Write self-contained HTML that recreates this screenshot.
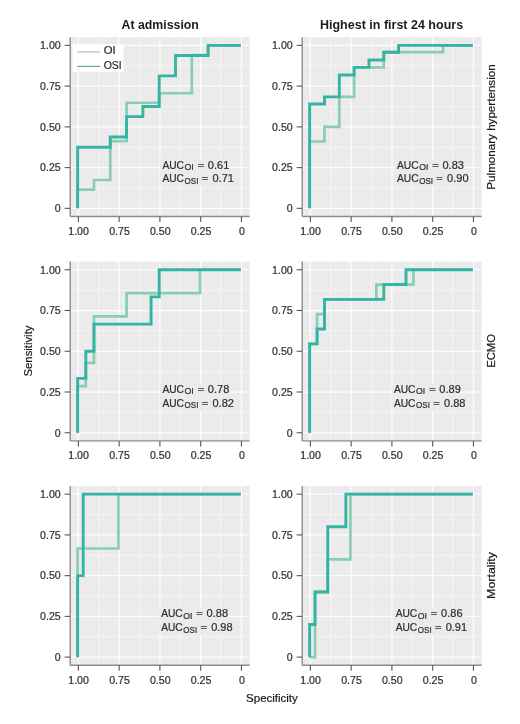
<!DOCTYPE html>
<html><head><meta charset="utf-8"><title>ROC curves</title>
<style>
html,body{margin:0;padding:0;background:#fff;overflow:hidden;}
svg{display:block;}
text{font-family:"Liberation Sans", Arial, sans-serif;font-kerning:none;}
</style></head><body>
<svg width="520" height="724" viewBox="0 0 520 724">
<rect x="0" y="0" width="520" height="724" fill="#ffffff"/>
<g>
<rect x="70.20" y="37.20" width="179.40" height="179.30" fill="#ebebeb"/>
<line x1="221.06" y1="37.20" x2="221.06" y2="216.50" stroke="#f6f6f6" stroke-width="0.9"/>
<line x1="70.20" y1="187.97" x2="249.60" y2="187.97" stroke="#f6f6f6" stroke-width="0.9"/>
<line x1="180.29" y1="37.20" x2="180.29" y2="216.50" stroke="#f6f6f6" stroke-width="0.9"/>
<line x1="70.20" y1="147.22" x2="249.60" y2="147.22" stroke="#f6f6f6" stroke-width="0.9"/>
<line x1="139.51" y1="37.20" x2="139.51" y2="216.50" stroke="#f6f6f6" stroke-width="0.9"/>
<line x1="70.20" y1="106.47" x2="249.60" y2="106.47" stroke="#f6f6f6" stroke-width="0.9"/>
<line x1="98.74" y1="37.20" x2="98.74" y2="216.50" stroke="#f6f6f6" stroke-width="0.9"/>
<line x1="70.20" y1="65.72" x2="249.60" y2="65.72" stroke="#f6f6f6" stroke-width="0.9"/>
<line x1="241.45" y1="37.20" x2="241.45" y2="216.50" stroke="#fdfdfd" stroke-width="1.25"/>
<line x1="70.20" y1="208.35" x2="249.60" y2="208.35" stroke="#fdfdfd" stroke-width="1.25"/>
<line x1="200.67" y1="37.20" x2="200.67" y2="216.50" stroke="#fdfdfd" stroke-width="1.25"/>
<line x1="70.20" y1="167.60" x2="249.60" y2="167.60" stroke="#fdfdfd" stroke-width="1.25"/>
<line x1="159.90" y1="37.20" x2="159.90" y2="216.50" stroke="#fdfdfd" stroke-width="1.25"/>
<line x1="70.20" y1="126.85" x2="249.60" y2="126.85" stroke="#fdfdfd" stroke-width="1.25"/>
<line x1="119.13" y1="37.20" x2="119.13" y2="216.50" stroke="#fdfdfd" stroke-width="1.25"/>
<line x1="70.20" y1="86.10" x2="249.60" y2="86.10" stroke="#fdfdfd" stroke-width="1.25"/>
<line x1="78.35" y1="37.20" x2="78.35" y2="216.50" stroke="#fdfdfd" stroke-width="1.25"/>
<line x1="70.20" y1="45.35" x2="249.60" y2="45.35" stroke="#fdfdfd" stroke-width="1.25"/>
<polyline points="77.65,208.35 77.65,189.60 93.96,189.60 93.96,179.99 110.27,179.99 110.27,141.03 126.58,141.03 126.58,102.73 159.20,102.73 159.20,93.27 191.82,93.27 191.82,55.13 208.13,55.13 208.13,45.35 240.75,45.35" fill="none" stroke="#88ceb2" stroke-width="2.7" stroke-linejoin="miter" stroke-linecap="butt"/>
<polyline points="77.65,208.35 77.65,147.22 110.27,147.22 110.27,137.04 126.58,137.04 126.58,116.66 142.89,116.66 142.89,106.47 159.20,106.47 159.20,75.91 175.51,75.91 175.51,55.54 208.13,55.54 208.13,45.35 240.75,45.35" fill="none" stroke="#35b3a6" stroke-width="2.9" stroke-linejoin="miter" stroke-linecap="butt"/>
<rect x="160.00" y="159.40" width="68.00" height="12.3" fill="#ebebeb"/>
<rect x="160.00" y="171.90" width="73.00" height="14" fill="#ebebeb"/>
<text x="162.48" y="168.60" font-size="10.2" stroke-width="0.22" fill="#303030" stroke="#303030" textLength="21.51" lengthAdjust="spacingAndGlyphs">AUC</text>
<text x="184.59" y="169.90" font-size="8.6" stroke-width="0.22" fill="#303030" stroke="#303030" textLength="9.22" lengthAdjust="spacingAndGlyphs">OI</text>
<text x="197.66" y="167.60" font-size="9.0" stroke-width="0.22" fill="#303030" stroke="#303030" textLength="6.49" lengthAdjust="spacingAndGlyphs">=</text>
<text x="207.87" y="168.60" font-size="10.3" stroke-width="0.22" fill="#303030" stroke="#303030" textLength="21.45" lengthAdjust="spacingAndGlyphs">0.61</text>
<text x="162.48" y="182.40" font-size="10.2" stroke-width="0.22" fill="#303030" stroke="#303030" textLength="21.51" lengthAdjust="spacingAndGlyphs">AUC</text>
<text x="184.62" y="183.70" font-size="8.6" stroke-width="0.22" fill="#303030" stroke="#303030" textLength="13.82" lengthAdjust="spacingAndGlyphs">OSI</text>
<text x="201.76" y="181.40" font-size="9.0" stroke-width="0.22" fill="#303030" stroke="#303030" textLength="6.49" lengthAdjust="spacingAndGlyphs">=</text>
<text x="212.47" y="182.40" font-size="10.3" stroke-width="0.22" fill="#303030" stroke="#303030" textLength="21.45" lengthAdjust="spacingAndGlyphs">0.71</text>
<line x1="70.20" y1="37.20" x2="70.20" y2="216.50" stroke="#8c8c8c" stroke-width="1.4"/>
<line x1="70.20" y1="216.50" x2="249.60" y2="216.50" stroke="#8c8c8c" stroke-width="1.4"/>
<line x1="64.60" y1="45.35" x2="70.20" y2="45.35" stroke="#555555" stroke-width="1.1"/>
<text x="40.08" y="49.10" font-size="10.6" stroke-width="0.22" fill="#303030" stroke="#303030" textLength="20.63" lengthAdjust="spacingAndGlyphs">1.00</text>
<line x1="78.35" y1="216.50" x2="78.35" y2="222.00" stroke="#555555" stroke-width="1.1"/>
<text x="68.24" y="234.80" font-size="10.6" stroke-width="0.22" fill="#303030" stroke="#303030" textLength="20.63" lengthAdjust="spacingAndGlyphs">1.00</text>
<line x1="64.60" y1="86.10" x2="70.20" y2="86.10" stroke="#555555" stroke-width="1.1"/>
<text x="40.11" y="89.85" font-size="10.6" stroke-width="0.22" fill="#303030" stroke="#303030" textLength="20.63" lengthAdjust="spacingAndGlyphs">0.75</text>
<line x1="119.13" y1="216.50" x2="119.13" y2="222.00" stroke="#555555" stroke-width="1.1"/>
<text x="109.23" y="234.80" font-size="10.6" stroke-width="0.22" fill="#303030" stroke="#303030" textLength="20.63" lengthAdjust="spacingAndGlyphs">0.75</text>
<line x1="64.60" y1="126.85" x2="70.20" y2="126.85" stroke="#555555" stroke-width="1.1"/>
<text x="40.08" y="130.60" font-size="10.6" stroke-width="0.22" fill="#303030" stroke="#303030" textLength="20.63" lengthAdjust="spacingAndGlyphs">0.50</text>
<line x1="159.90" y1="216.50" x2="159.90" y2="222.00" stroke="#555555" stroke-width="1.1"/>
<text x="149.98" y="234.80" font-size="10.6" stroke-width="0.22" fill="#303030" stroke="#303030" textLength="20.63" lengthAdjust="spacingAndGlyphs">0.50</text>
<line x1="64.60" y1="167.60" x2="70.20" y2="167.60" stroke="#555555" stroke-width="1.1"/>
<text x="40.11" y="171.35" font-size="10.6" stroke-width="0.22" fill="#303030" stroke="#303030" textLength="20.63" lengthAdjust="spacingAndGlyphs">0.25</text>
<line x1="200.67" y1="216.50" x2="200.67" y2="222.00" stroke="#555555" stroke-width="1.1"/>
<text x="190.77" y="234.80" font-size="10.6" stroke-width="0.22" fill="#303030" stroke="#303030" textLength="20.63" lengthAdjust="spacingAndGlyphs">0.25</text>
<line x1="64.60" y1="208.35" x2="70.20" y2="208.35" stroke="#555555" stroke-width="1.1"/>
<text x="54.82" y="212.10" font-size="10.6" stroke-width="0.22" fill="#303030" stroke="#303030" textLength="5.90" lengthAdjust="spacingAndGlyphs">0</text>
<line x1="241.45" y1="216.50" x2="241.45" y2="222.00" stroke="#555555" stroke-width="1.1"/>
<text x="238.90" y="234.80" font-size="10.6" stroke-width="0.22" fill="#303030" stroke="#303030" textLength="5.90" lengthAdjust="spacingAndGlyphs">0</text>
</g>
<g>
<rect x="302.20" y="37.20" width="179.40" height="179.30" fill="#ebebeb"/>
<line x1="453.06" y1="37.20" x2="453.06" y2="216.50" stroke="#f6f6f6" stroke-width="0.9"/>
<line x1="302.20" y1="187.97" x2="481.60" y2="187.97" stroke="#f6f6f6" stroke-width="0.9"/>
<line x1="412.29" y1="37.20" x2="412.29" y2="216.50" stroke="#f6f6f6" stroke-width="0.9"/>
<line x1="302.20" y1="147.22" x2="481.60" y2="147.22" stroke="#f6f6f6" stroke-width="0.9"/>
<line x1="371.51" y1="37.20" x2="371.51" y2="216.50" stroke="#f6f6f6" stroke-width="0.9"/>
<line x1="302.20" y1="106.47" x2="481.60" y2="106.47" stroke="#f6f6f6" stroke-width="0.9"/>
<line x1="330.74" y1="37.20" x2="330.74" y2="216.50" stroke="#f6f6f6" stroke-width="0.9"/>
<line x1="302.20" y1="65.72" x2="481.60" y2="65.72" stroke="#f6f6f6" stroke-width="0.9"/>
<line x1="473.45" y1="37.20" x2="473.45" y2="216.50" stroke="#fdfdfd" stroke-width="1.25"/>
<line x1="302.20" y1="208.35" x2="481.60" y2="208.35" stroke="#fdfdfd" stroke-width="1.25"/>
<line x1="432.67" y1="37.20" x2="432.67" y2="216.50" stroke="#fdfdfd" stroke-width="1.25"/>
<line x1="302.20" y1="167.60" x2="481.60" y2="167.60" stroke="#fdfdfd" stroke-width="1.25"/>
<line x1="391.90" y1="37.20" x2="391.90" y2="216.50" stroke="#fdfdfd" stroke-width="1.25"/>
<line x1="302.20" y1="126.85" x2="481.60" y2="126.85" stroke="#fdfdfd" stroke-width="1.25"/>
<line x1="351.13" y1="37.20" x2="351.13" y2="216.50" stroke="#fdfdfd" stroke-width="1.25"/>
<line x1="302.20" y1="86.10" x2="481.60" y2="86.10" stroke="#fdfdfd" stroke-width="1.25"/>
<line x1="310.35" y1="37.20" x2="310.35" y2="216.50" stroke="#fdfdfd" stroke-width="1.25"/>
<line x1="302.20" y1="45.35" x2="481.60" y2="45.35" stroke="#fdfdfd" stroke-width="1.25"/>
<polyline points="309.65,208.35 309.65,141.52 324.48,141.52 324.48,126.85 339.31,126.85 339.31,96.86 354.13,96.86 354.13,67.36 383.79,67.36 383.79,52.20 443.09,52.20 443.09,45.35 472.75,45.35" fill="none" stroke="#88ceb2" stroke-width="2.7" stroke-linejoin="miter" stroke-linecap="butt"/>
<polyline points="309.65,208.35 309.65,104.03 324.48,104.03 324.48,96.86 339.31,96.86 339.31,75.02 354.13,75.02 354.13,67.36 368.96,67.36 368.96,60.02 383.79,60.02 383.79,52.20 398.61,52.20 398.61,45.35 472.75,45.35" fill="none" stroke="#35b3a6" stroke-width="2.9" stroke-linejoin="miter" stroke-linecap="butt"/>
<rect x="394.60" y="159.40" width="68.00" height="12.3" fill="#ebebeb"/>
<rect x="394.60" y="171.90" width="73.00" height="14" fill="#ebebeb"/>
<text x="397.08" y="168.60" font-size="10.2" stroke-width="0.22" fill="#303030" stroke="#303030" textLength="21.51" lengthAdjust="spacingAndGlyphs">AUC</text>
<text x="419.19" y="169.90" font-size="8.6" stroke-width="0.22" fill="#303030" stroke="#303030" textLength="9.22" lengthAdjust="spacingAndGlyphs">OI</text>
<text x="432.26" y="167.60" font-size="9.0" stroke-width="0.22" fill="#303030" stroke="#303030" textLength="6.49" lengthAdjust="spacingAndGlyphs">=</text>
<text x="442.47" y="168.60" font-size="10.3" stroke-width="0.22" fill="#303030" stroke="#303030" textLength="21.45" lengthAdjust="spacingAndGlyphs">0.83</text>
<text x="397.08" y="182.40" font-size="10.2" stroke-width="0.22" fill="#303030" stroke="#303030" textLength="21.51" lengthAdjust="spacingAndGlyphs">AUC</text>
<text x="419.22" y="183.70" font-size="8.6" stroke-width="0.22" fill="#303030" stroke="#303030" textLength="13.82" lengthAdjust="spacingAndGlyphs">OSI</text>
<text x="436.36" y="181.40" font-size="9.0" stroke-width="0.22" fill="#303030" stroke="#303030" textLength="6.49" lengthAdjust="spacingAndGlyphs">=</text>
<text x="447.07" y="182.40" font-size="10.3" stroke-width="0.22" fill="#303030" stroke="#303030" textLength="21.45" lengthAdjust="spacingAndGlyphs">0.90</text>
<line x1="302.20" y1="37.20" x2="302.20" y2="216.50" stroke="#8c8c8c" stroke-width="1.4"/>
<line x1="302.20" y1="216.50" x2="481.60" y2="216.50" stroke="#8c8c8c" stroke-width="1.4"/>
<line x1="296.60" y1="45.35" x2="302.20" y2="45.35" stroke="#555555" stroke-width="1.1"/>
<text x="272.08" y="49.10" font-size="10.6" stroke-width="0.22" fill="#303030" stroke="#303030" textLength="20.63" lengthAdjust="spacingAndGlyphs">1.00</text>
<line x1="310.35" y1="216.50" x2="310.35" y2="222.00" stroke="#555555" stroke-width="1.1"/>
<text x="300.24" y="234.80" font-size="10.6" stroke-width="0.22" fill="#303030" stroke="#303030" textLength="20.63" lengthAdjust="spacingAndGlyphs">1.00</text>
<line x1="296.60" y1="86.10" x2="302.20" y2="86.10" stroke="#555555" stroke-width="1.1"/>
<text x="272.11" y="89.85" font-size="10.6" stroke-width="0.22" fill="#303030" stroke="#303030" textLength="20.63" lengthAdjust="spacingAndGlyphs">0.75</text>
<line x1="351.13" y1="216.50" x2="351.13" y2="222.00" stroke="#555555" stroke-width="1.1"/>
<text x="341.23" y="234.80" font-size="10.6" stroke-width="0.22" fill="#303030" stroke="#303030" textLength="20.63" lengthAdjust="spacingAndGlyphs">0.75</text>
<line x1="296.60" y1="126.85" x2="302.20" y2="126.85" stroke="#555555" stroke-width="1.1"/>
<text x="272.08" y="130.60" font-size="10.6" stroke-width="0.22" fill="#303030" stroke="#303030" textLength="20.63" lengthAdjust="spacingAndGlyphs">0.50</text>
<line x1="391.90" y1="216.50" x2="391.90" y2="222.00" stroke="#555555" stroke-width="1.1"/>
<text x="381.98" y="234.80" font-size="10.6" stroke-width="0.22" fill="#303030" stroke="#303030" textLength="20.63" lengthAdjust="spacingAndGlyphs">0.50</text>
<line x1="296.60" y1="167.60" x2="302.20" y2="167.60" stroke="#555555" stroke-width="1.1"/>
<text x="272.11" y="171.35" font-size="10.6" stroke-width="0.22" fill="#303030" stroke="#303030" textLength="20.63" lengthAdjust="spacingAndGlyphs">0.25</text>
<line x1="432.67" y1="216.50" x2="432.67" y2="222.00" stroke="#555555" stroke-width="1.1"/>
<text x="422.77" y="234.80" font-size="10.6" stroke-width="0.22" fill="#303030" stroke="#303030" textLength="20.63" lengthAdjust="spacingAndGlyphs">0.25</text>
<line x1="296.60" y1="208.35" x2="302.20" y2="208.35" stroke="#555555" stroke-width="1.1"/>
<text x="286.82" y="212.10" font-size="10.6" stroke-width="0.22" fill="#303030" stroke="#303030" textLength="5.90" lengthAdjust="spacingAndGlyphs">0</text>
<line x1="473.45" y1="216.50" x2="473.45" y2="222.00" stroke="#555555" stroke-width="1.1"/>
<text x="470.90" y="234.80" font-size="10.6" stroke-width="0.22" fill="#303030" stroke="#303030" textLength="5.90" lengthAdjust="spacingAndGlyphs">0</text>
</g>
<g>
<rect x="70.20" y="261.60" width="179.40" height="179.30" fill="#ebebeb"/>
<line x1="221.06" y1="261.60" x2="221.06" y2="440.90" stroke="#f6f6f6" stroke-width="0.9"/>
<line x1="70.20" y1="412.38" x2="249.60" y2="412.38" stroke="#f6f6f6" stroke-width="0.9"/>
<line x1="180.29" y1="261.60" x2="180.29" y2="440.90" stroke="#f6f6f6" stroke-width="0.9"/>
<line x1="70.20" y1="371.62" x2="249.60" y2="371.62" stroke="#f6f6f6" stroke-width="0.9"/>
<line x1="139.51" y1="261.60" x2="139.51" y2="440.90" stroke="#f6f6f6" stroke-width="0.9"/>
<line x1="70.20" y1="330.88" x2="249.60" y2="330.88" stroke="#f6f6f6" stroke-width="0.9"/>
<line x1="98.74" y1="261.60" x2="98.74" y2="440.90" stroke="#f6f6f6" stroke-width="0.9"/>
<line x1="70.20" y1="290.12" x2="249.60" y2="290.12" stroke="#f6f6f6" stroke-width="0.9"/>
<line x1="241.45" y1="261.60" x2="241.45" y2="440.90" stroke="#fdfdfd" stroke-width="1.25"/>
<line x1="70.20" y1="432.75" x2="249.60" y2="432.75" stroke="#fdfdfd" stroke-width="1.25"/>
<line x1="200.67" y1="261.60" x2="200.67" y2="440.90" stroke="#fdfdfd" stroke-width="1.25"/>
<line x1="70.20" y1="392.00" x2="249.60" y2="392.00" stroke="#fdfdfd" stroke-width="1.25"/>
<line x1="159.90" y1="261.60" x2="159.90" y2="440.90" stroke="#fdfdfd" stroke-width="1.25"/>
<line x1="70.20" y1="351.25" x2="249.60" y2="351.25" stroke="#fdfdfd" stroke-width="1.25"/>
<line x1="119.13" y1="261.60" x2="119.13" y2="440.90" stroke="#fdfdfd" stroke-width="1.25"/>
<line x1="70.20" y1="310.50" x2="249.60" y2="310.50" stroke="#fdfdfd" stroke-width="1.25"/>
<line x1="78.35" y1="261.60" x2="78.35" y2="440.90" stroke="#fdfdfd" stroke-width="1.25"/>
<line x1="70.20" y1="269.75" x2="249.60" y2="269.75" stroke="#fdfdfd" stroke-width="1.25"/>
<polyline points="77.65,432.75 77.65,386.18 85.81,386.18 85.81,362.89 93.96,362.89 93.96,316.32 126.58,316.32 126.58,293.04 199.97,293.04 199.97,269.75 240.75,269.75" fill="none" stroke="#88ceb2" stroke-width="2.7" stroke-linejoin="miter" stroke-linecap="butt"/>
<polyline points="77.65,432.75 77.65,378.42 85.81,378.42 85.81,351.25 93.96,351.25 93.96,324.08 151.05,324.08 151.05,296.92 159.20,296.92 159.20,269.75 240.75,269.75" fill="none" stroke="#35b3a6" stroke-width="2.9" stroke-linejoin="miter" stroke-linecap="butt"/>
<rect x="160.00" y="383.80" width="68.00" height="12.3" fill="#ebebeb"/>
<rect x="160.00" y="396.30" width="73.00" height="14" fill="#ebebeb"/>
<text x="162.48" y="393.00" font-size="10.2" stroke-width="0.22" fill="#303030" stroke="#303030" textLength="21.51" lengthAdjust="spacingAndGlyphs">AUC</text>
<text x="184.59" y="394.30" font-size="8.6" stroke-width="0.22" fill="#303030" stroke="#303030" textLength="9.22" lengthAdjust="spacingAndGlyphs">OI</text>
<text x="197.66" y="392.00" font-size="9.0" stroke-width="0.22" fill="#303030" stroke="#303030" textLength="6.49" lengthAdjust="spacingAndGlyphs">=</text>
<text x="207.87" y="393.00" font-size="10.3" stroke-width="0.22" fill="#303030" stroke="#303030" textLength="21.45" lengthAdjust="spacingAndGlyphs">0.78</text>
<text x="162.48" y="406.80" font-size="10.2" stroke-width="0.22" fill="#303030" stroke="#303030" textLength="21.51" lengthAdjust="spacingAndGlyphs">AUC</text>
<text x="184.62" y="408.10" font-size="8.6" stroke-width="0.22" fill="#303030" stroke="#303030" textLength="13.82" lengthAdjust="spacingAndGlyphs">OSI</text>
<text x="201.76" y="405.80" font-size="9.0" stroke-width="0.22" fill="#303030" stroke="#303030" textLength="6.49" lengthAdjust="spacingAndGlyphs">=</text>
<text x="212.47" y="406.80" font-size="10.3" stroke-width="0.22" fill="#303030" stroke="#303030" textLength="21.45" lengthAdjust="spacingAndGlyphs">0.82</text>
<line x1="70.20" y1="261.60" x2="70.20" y2="440.90" stroke="#8c8c8c" stroke-width="1.4"/>
<line x1="70.20" y1="440.90" x2="249.60" y2="440.90" stroke="#8c8c8c" stroke-width="1.4"/>
<line x1="64.60" y1="269.75" x2="70.20" y2="269.75" stroke="#555555" stroke-width="1.1"/>
<text x="40.08" y="273.50" font-size="10.6" stroke-width="0.22" fill="#303030" stroke="#303030" textLength="20.63" lengthAdjust="spacingAndGlyphs">1.00</text>
<line x1="78.35" y1="440.90" x2="78.35" y2="446.40" stroke="#555555" stroke-width="1.1"/>
<text x="68.24" y="459.20" font-size="10.6" stroke-width="0.22" fill="#303030" stroke="#303030" textLength="20.63" lengthAdjust="spacingAndGlyphs">1.00</text>
<line x1="64.60" y1="310.50" x2="70.20" y2="310.50" stroke="#555555" stroke-width="1.1"/>
<text x="40.11" y="314.25" font-size="10.6" stroke-width="0.22" fill="#303030" stroke="#303030" textLength="20.63" lengthAdjust="spacingAndGlyphs">0.75</text>
<line x1="119.13" y1="440.90" x2="119.13" y2="446.40" stroke="#555555" stroke-width="1.1"/>
<text x="109.23" y="459.20" font-size="10.6" stroke-width="0.22" fill="#303030" stroke="#303030" textLength="20.63" lengthAdjust="spacingAndGlyphs">0.75</text>
<line x1="64.60" y1="351.25" x2="70.20" y2="351.25" stroke="#555555" stroke-width="1.1"/>
<text x="40.08" y="355.00" font-size="10.6" stroke-width="0.22" fill="#303030" stroke="#303030" textLength="20.63" lengthAdjust="spacingAndGlyphs">0.50</text>
<line x1="159.90" y1="440.90" x2="159.90" y2="446.40" stroke="#555555" stroke-width="1.1"/>
<text x="149.98" y="459.20" font-size="10.6" stroke-width="0.22" fill="#303030" stroke="#303030" textLength="20.63" lengthAdjust="spacingAndGlyphs">0.50</text>
<line x1="64.60" y1="392.00" x2="70.20" y2="392.00" stroke="#555555" stroke-width="1.1"/>
<text x="40.11" y="395.75" font-size="10.6" stroke-width="0.22" fill="#303030" stroke="#303030" textLength="20.63" lengthAdjust="spacingAndGlyphs">0.25</text>
<line x1="200.67" y1="440.90" x2="200.67" y2="446.40" stroke="#555555" stroke-width="1.1"/>
<text x="190.77" y="459.20" font-size="10.6" stroke-width="0.22" fill="#303030" stroke="#303030" textLength="20.63" lengthAdjust="spacingAndGlyphs">0.25</text>
<line x1="64.60" y1="432.75" x2="70.20" y2="432.75" stroke="#555555" stroke-width="1.1"/>
<text x="54.82" y="436.50" font-size="10.6" stroke-width="0.22" fill="#303030" stroke="#303030" textLength="5.90" lengthAdjust="spacingAndGlyphs">0</text>
<line x1="241.45" y1="440.90" x2="241.45" y2="446.40" stroke="#555555" stroke-width="1.1"/>
<text x="238.90" y="459.20" font-size="10.6" stroke-width="0.22" fill="#303030" stroke="#303030" textLength="5.90" lengthAdjust="spacingAndGlyphs">0</text>
</g>
<g>
<rect x="302.20" y="261.60" width="179.40" height="179.30" fill="#ebebeb"/>
<line x1="453.06" y1="261.60" x2="453.06" y2="440.90" stroke="#f6f6f6" stroke-width="0.9"/>
<line x1="302.20" y1="412.38" x2="481.60" y2="412.38" stroke="#f6f6f6" stroke-width="0.9"/>
<line x1="412.29" y1="261.60" x2="412.29" y2="440.90" stroke="#f6f6f6" stroke-width="0.9"/>
<line x1="302.20" y1="371.62" x2="481.60" y2="371.62" stroke="#f6f6f6" stroke-width="0.9"/>
<line x1="371.51" y1="261.60" x2="371.51" y2="440.90" stroke="#f6f6f6" stroke-width="0.9"/>
<line x1="302.20" y1="330.88" x2="481.60" y2="330.88" stroke="#f6f6f6" stroke-width="0.9"/>
<line x1="330.74" y1="261.60" x2="330.74" y2="440.90" stroke="#f6f6f6" stroke-width="0.9"/>
<line x1="302.20" y1="290.12" x2="481.60" y2="290.12" stroke="#f6f6f6" stroke-width="0.9"/>
<line x1="473.45" y1="261.60" x2="473.45" y2="440.90" stroke="#fdfdfd" stroke-width="1.25"/>
<line x1="302.20" y1="432.75" x2="481.60" y2="432.75" stroke="#fdfdfd" stroke-width="1.25"/>
<line x1="432.67" y1="261.60" x2="432.67" y2="440.90" stroke="#fdfdfd" stroke-width="1.25"/>
<line x1="302.20" y1="392.00" x2="481.60" y2="392.00" stroke="#fdfdfd" stroke-width="1.25"/>
<line x1="391.90" y1="261.60" x2="391.90" y2="440.90" stroke="#fdfdfd" stroke-width="1.25"/>
<line x1="302.20" y1="351.25" x2="481.60" y2="351.25" stroke="#fdfdfd" stroke-width="1.25"/>
<line x1="351.13" y1="261.60" x2="351.13" y2="440.90" stroke="#fdfdfd" stroke-width="1.25"/>
<line x1="302.20" y1="310.50" x2="481.60" y2="310.50" stroke="#fdfdfd" stroke-width="1.25"/>
<line x1="310.35" y1="261.60" x2="310.35" y2="440.90" stroke="#fdfdfd" stroke-width="1.25"/>
<line x1="302.20" y1="269.75" x2="481.60" y2="269.75" stroke="#fdfdfd" stroke-width="1.25"/>
<polyline points="309.65,432.75 309.65,343.84 317.07,343.84 317.07,314.20 324.48,314.20 324.48,299.39 376.37,299.39 376.37,284.57 413.44,284.57 413.44,269.75 472.75,269.75" fill="none" stroke="#88ceb2" stroke-width="2.7" stroke-linejoin="miter" stroke-linecap="butt"/>
<polyline points="309.65,432.75 309.65,343.84 317.07,343.84 317.07,329.02 324.48,329.02 324.48,299.39 383.79,299.39 383.79,284.57 406.03,284.57 406.03,269.75 472.75,269.75" fill="none" stroke="#35b3a6" stroke-width="2.9" stroke-linejoin="miter" stroke-linecap="butt"/>
<rect x="391.50" y="383.80" width="68.00" height="12.3" fill="#ebebeb"/>
<rect x="391.50" y="396.30" width="73.00" height="14" fill="#ebebeb"/>
<text x="393.98" y="393.00" font-size="10.2" stroke-width="0.22" fill="#303030" stroke="#303030" textLength="21.51" lengthAdjust="spacingAndGlyphs">AUC</text>
<text x="416.09" y="394.30" font-size="8.6" stroke-width="0.22" fill="#303030" stroke="#303030" textLength="9.22" lengthAdjust="spacingAndGlyphs">OI</text>
<text x="429.16" y="392.00" font-size="9.0" stroke-width="0.22" fill="#303030" stroke="#303030" textLength="6.49" lengthAdjust="spacingAndGlyphs">=</text>
<text x="439.37" y="393.00" font-size="10.3" stroke-width="0.22" fill="#303030" stroke="#303030" textLength="21.45" lengthAdjust="spacingAndGlyphs">0.89</text>
<text x="393.98" y="406.80" font-size="10.2" stroke-width="0.22" fill="#303030" stroke="#303030" textLength="21.51" lengthAdjust="spacingAndGlyphs">AUC</text>
<text x="416.12" y="408.10" font-size="8.6" stroke-width="0.22" fill="#303030" stroke="#303030" textLength="13.82" lengthAdjust="spacingAndGlyphs">OSI</text>
<text x="433.26" y="405.80" font-size="9.0" stroke-width="0.22" fill="#303030" stroke="#303030" textLength="6.49" lengthAdjust="spacingAndGlyphs">=</text>
<text x="443.97" y="406.80" font-size="10.3" stroke-width="0.22" fill="#303030" stroke="#303030" textLength="21.45" lengthAdjust="spacingAndGlyphs">0.88</text>
<line x1="302.20" y1="261.60" x2="302.20" y2="440.90" stroke="#8c8c8c" stroke-width="1.4"/>
<line x1="302.20" y1="440.90" x2="481.60" y2="440.90" stroke="#8c8c8c" stroke-width="1.4"/>
<line x1="296.60" y1="269.75" x2="302.20" y2="269.75" stroke="#555555" stroke-width="1.1"/>
<text x="272.08" y="273.50" font-size="10.6" stroke-width="0.22" fill="#303030" stroke="#303030" textLength="20.63" lengthAdjust="spacingAndGlyphs">1.00</text>
<line x1="310.35" y1="440.90" x2="310.35" y2="446.40" stroke="#555555" stroke-width="1.1"/>
<text x="300.24" y="459.20" font-size="10.6" stroke-width="0.22" fill="#303030" stroke="#303030" textLength="20.63" lengthAdjust="spacingAndGlyphs">1.00</text>
<line x1="296.60" y1="310.50" x2="302.20" y2="310.50" stroke="#555555" stroke-width="1.1"/>
<text x="272.11" y="314.25" font-size="10.6" stroke-width="0.22" fill="#303030" stroke="#303030" textLength="20.63" lengthAdjust="spacingAndGlyphs">0.75</text>
<line x1="351.13" y1="440.90" x2="351.13" y2="446.40" stroke="#555555" stroke-width="1.1"/>
<text x="341.23" y="459.20" font-size="10.6" stroke-width="0.22" fill="#303030" stroke="#303030" textLength="20.63" lengthAdjust="spacingAndGlyphs">0.75</text>
<line x1="296.60" y1="351.25" x2="302.20" y2="351.25" stroke="#555555" stroke-width="1.1"/>
<text x="272.08" y="355.00" font-size="10.6" stroke-width="0.22" fill="#303030" stroke="#303030" textLength="20.63" lengthAdjust="spacingAndGlyphs">0.50</text>
<line x1="391.90" y1="440.90" x2="391.90" y2="446.40" stroke="#555555" stroke-width="1.1"/>
<text x="381.98" y="459.20" font-size="10.6" stroke-width="0.22" fill="#303030" stroke="#303030" textLength="20.63" lengthAdjust="spacingAndGlyphs">0.50</text>
<line x1="296.60" y1="392.00" x2="302.20" y2="392.00" stroke="#555555" stroke-width="1.1"/>
<text x="272.11" y="395.75" font-size="10.6" stroke-width="0.22" fill="#303030" stroke="#303030" textLength="20.63" lengthAdjust="spacingAndGlyphs">0.25</text>
<line x1="432.67" y1="440.90" x2="432.67" y2="446.40" stroke="#555555" stroke-width="1.1"/>
<text x="422.77" y="459.20" font-size="10.6" stroke-width="0.22" fill="#303030" stroke="#303030" textLength="20.63" lengthAdjust="spacingAndGlyphs">0.25</text>
<line x1="296.60" y1="432.75" x2="302.20" y2="432.75" stroke="#555555" stroke-width="1.1"/>
<text x="286.82" y="436.50" font-size="10.6" stroke-width="0.22" fill="#303030" stroke="#303030" textLength="5.90" lengthAdjust="spacingAndGlyphs">0</text>
<line x1="473.45" y1="440.90" x2="473.45" y2="446.40" stroke="#555555" stroke-width="1.1"/>
<text x="470.90" y="459.20" font-size="10.6" stroke-width="0.22" fill="#303030" stroke="#303030" textLength="5.90" lengthAdjust="spacingAndGlyphs">0</text>
</g>
<g>
<rect x="70.20" y="486.00" width="179.40" height="179.30" fill="#ebebeb"/>
<line x1="221.06" y1="486.00" x2="221.06" y2="665.30" stroke="#f6f6f6" stroke-width="0.9"/>
<line x1="70.20" y1="636.77" x2="249.60" y2="636.77" stroke="#f6f6f6" stroke-width="0.9"/>
<line x1="180.29" y1="486.00" x2="180.29" y2="665.30" stroke="#f6f6f6" stroke-width="0.9"/>
<line x1="70.20" y1="596.02" x2="249.60" y2="596.02" stroke="#f6f6f6" stroke-width="0.9"/>
<line x1="139.51" y1="486.00" x2="139.51" y2="665.30" stroke="#f6f6f6" stroke-width="0.9"/>
<line x1="70.20" y1="555.27" x2="249.60" y2="555.27" stroke="#f6f6f6" stroke-width="0.9"/>
<line x1="98.74" y1="486.00" x2="98.74" y2="665.30" stroke="#f6f6f6" stroke-width="0.9"/>
<line x1="70.20" y1="514.52" x2="249.60" y2="514.52" stroke="#f6f6f6" stroke-width="0.9"/>
<line x1="241.45" y1="486.00" x2="241.45" y2="665.30" stroke="#fdfdfd" stroke-width="1.25"/>
<line x1="70.20" y1="657.15" x2="249.60" y2="657.15" stroke="#fdfdfd" stroke-width="1.25"/>
<line x1="200.67" y1="486.00" x2="200.67" y2="665.30" stroke="#fdfdfd" stroke-width="1.25"/>
<line x1="70.20" y1="616.40" x2="249.60" y2="616.40" stroke="#fdfdfd" stroke-width="1.25"/>
<line x1="159.90" y1="486.00" x2="159.90" y2="665.30" stroke="#fdfdfd" stroke-width="1.25"/>
<line x1="70.20" y1="575.65" x2="249.60" y2="575.65" stroke="#fdfdfd" stroke-width="1.25"/>
<line x1="119.13" y1="486.00" x2="119.13" y2="665.30" stroke="#fdfdfd" stroke-width="1.25"/>
<line x1="70.20" y1="534.90" x2="249.60" y2="534.90" stroke="#fdfdfd" stroke-width="1.25"/>
<line x1="78.35" y1="486.00" x2="78.35" y2="665.30" stroke="#fdfdfd" stroke-width="1.25"/>
<line x1="70.20" y1="494.15" x2="249.60" y2="494.15" stroke="#fdfdfd" stroke-width="1.25"/>
<polyline points="77.65,657.15 77.65,548.48 118.43,548.48 118.43,494.15 240.75,494.15" fill="none" stroke="#88ceb2" stroke-width="2.7" stroke-linejoin="miter" stroke-linecap="butt"/>
<polyline points="77.65,657.15 77.65,575.65 83.20,575.65 83.20,494.15 240.75,494.15" fill="none" stroke="#35b3a6" stroke-width="2.9" stroke-linejoin="miter" stroke-linecap="butt"/>
<rect x="158.70" y="608.20" width="68.00" height="12.3" fill="#ebebeb"/>
<rect x="158.70" y="620.70" width="73.00" height="14" fill="#ebebeb"/>
<text x="161.18" y="617.40" font-size="10.2" stroke-width="0.22" fill="#303030" stroke="#303030" textLength="21.51" lengthAdjust="spacingAndGlyphs">AUC</text>
<text x="183.29" y="618.70" font-size="8.6" stroke-width="0.22" fill="#303030" stroke="#303030" textLength="9.22" lengthAdjust="spacingAndGlyphs">OI</text>
<text x="196.36" y="616.40" font-size="9.0" stroke-width="0.22" fill="#303030" stroke="#303030" textLength="6.49" lengthAdjust="spacingAndGlyphs">=</text>
<text x="206.57" y="617.40" font-size="10.3" stroke-width="0.22" fill="#303030" stroke="#303030" textLength="21.45" lengthAdjust="spacingAndGlyphs">0.88</text>
<text x="161.18" y="631.20" font-size="10.2" stroke-width="0.22" fill="#303030" stroke="#303030" textLength="21.51" lengthAdjust="spacingAndGlyphs">AUC</text>
<text x="183.32" y="632.50" font-size="8.6" stroke-width="0.22" fill="#303030" stroke="#303030" textLength="13.82" lengthAdjust="spacingAndGlyphs">OSI</text>
<text x="200.46" y="630.20" font-size="9.0" stroke-width="0.22" fill="#303030" stroke="#303030" textLength="6.49" lengthAdjust="spacingAndGlyphs">=</text>
<text x="211.17" y="631.20" font-size="10.3" stroke-width="0.22" fill="#303030" stroke="#303030" textLength="21.45" lengthAdjust="spacingAndGlyphs">0.98</text>
<line x1="70.20" y1="486.00" x2="70.20" y2="665.30" stroke="#8c8c8c" stroke-width="1.4"/>
<line x1="70.20" y1="665.30" x2="249.60" y2="665.30" stroke="#8c8c8c" stroke-width="1.4"/>
<line x1="64.60" y1="494.15" x2="70.20" y2="494.15" stroke="#555555" stroke-width="1.1"/>
<text x="40.08" y="497.90" font-size="10.6" stroke-width="0.22" fill="#303030" stroke="#303030" textLength="20.63" lengthAdjust="spacingAndGlyphs">1.00</text>
<line x1="78.35" y1="665.30" x2="78.35" y2="670.80" stroke="#555555" stroke-width="1.1"/>
<text x="68.24" y="683.60" font-size="10.6" stroke-width="0.22" fill="#303030" stroke="#303030" textLength="20.63" lengthAdjust="spacingAndGlyphs">1.00</text>
<line x1="64.60" y1="534.90" x2="70.20" y2="534.90" stroke="#555555" stroke-width="1.1"/>
<text x="40.11" y="538.65" font-size="10.6" stroke-width="0.22" fill="#303030" stroke="#303030" textLength="20.63" lengthAdjust="spacingAndGlyphs">0.75</text>
<line x1="119.13" y1="665.30" x2="119.13" y2="670.80" stroke="#555555" stroke-width="1.1"/>
<text x="109.23" y="683.60" font-size="10.6" stroke-width="0.22" fill="#303030" stroke="#303030" textLength="20.63" lengthAdjust="spacingAndGlyphs">0.75</text>
<line x1="64.60" y1="575.65" x2="70.20" y2="575.65" stroke="#555555" stroke-width="1.1"/>
<text x="40.08" y="579.40" font-size="10.6" stroke-width="0.22" fill="#303030" stroke="#303030" textLength="20.63" lengthAdjust="spacingAndGlyphs">0.50</text>
<line x1="159.90" y1="665.30" x2="159.90" y2="670.80" stroke="#555555" stroke-width="1.1"/>
<text x="149.98" y="683.60" font-size="10.6" stroke-width="0.22" fill="#303030" stroke="#303030" textLength="20.63" lengthAdjust="spacingAndGlyphs">0.50</text>
<line x1="64.60" y1="616.40" x2="70.20" y2="616.40" stroke="#555555" stroke-width="1.1"/>
<text x="40.11" y="620.15" font-size="10.6" stroke-width="0.22" fill="#303030" stroke="#303030" textLength="20.63" lengthAdjust="spacingAndGlyphs">0.25</text>
<line x1="200.67" y1="665.30" x2="200.67" y2="670.80" stroke="#555555" stroke-width="1.1"/>
<text x="190.77" y="683.60" font-size="10.6" stroke-width="0.22" fill="#303030" stroke="#303030" textLength="20.63" lengthAdjust="spacingAndGlyphs">0.25</text>
<line x1="64.60" y1="657.15" x2="70.20" y2="657.15" stroke="#555555" stroke-width="1.1"/>
<text x="54.82" y="660.90" font-size="10.6" stroke-width="0.22" fill="#303030" stroke="#303030" textLength="5.90" lengthAdjust="spacingAndGlyphs">0</text>
<line x1="241.45" y1="665.30" x2="241.45" y2="670.80" stroke="#555555" stroke-width="1.1"/>
<text x="238.90" y="683.60" font-size="10.6" stroke-width="0.22" fill="#303030" stroke="#303030" textLength="5.90" lengthAdjust="spacingAndGlyphs">0</text>
</g>
<g>
<rect x="302.20" y="486.00" width="179.40" height="179.30" fill="#ebebeb"/>
<line x1="453.06" y1="486.00" x2="453.06" y2="665.30" stroke="#f6f6f6" stroke-width="0.9"/>
<line x1="302.20" y1="636.77" x2="481.60" y2="636.77" stroke="#f6f6f6" stroke-width="0.9"/>
<line x1="412.29" y1="486.00" x2="412.29" y2="665.30" stroke="#f6f6f6" stroke-width="0.9"/>
<line x1="302.20" y1="596.02" x2="481.60" y2="596.02" stroke="#f6f6f6" stroke-width="0.9"/>
<line x1="371.51" y1="486.00" x2="371.51" y2="665.30" stroke="#f6f6f6" stroke-width="0.9"/>
<line x1="302.20" y1="555.27" x2="481.60" y2="555.27" stroke="#f6f6f6" stroke-width="0.9"/>
<line x1="330.74" y1="486.00" x2="330.74" y2="665.30" stroke="#f6f6f6" stroke-width="0.9"/>
<line x1="302.20" y1="514.52" x2="481.60" y2="514.52" stroke="#f6f6f6" stroke-width="0.9"/>
<line x1="473.45" y1="486.00" x2="473.45" y2="665.30" stroke="#fdfdfd" stroke-width="1.25"/>
<line x1="302.20" y1="657.15" x2="481.60" y2="657.15" stroke="#fdfdfd" stroke-width="1.25"/>
<line x1="432.67" y1="486.00" x2="432.67" y2="665.30" stroke="#fdfdfd" stroke-width="1.25"/>
<line x1="302.20" y1="616.40" x2="481.60" y2="616.40" stroke="#fdfdfd" stroke-width="1.25"/>
<line x1="391.90" y1="486.00" x2="391.90" y2="665.30" stroke="#fdfdfd" stroke-width="1.25"/>
<line x1="302.20" y1="575.65" x2="481.60" y2="575.65" stroke="#fdfdfd" stroke-width="1.25"/>
<line x1="351.13" y1="486.00" x2="351.13" y2="665.30" stroke="#fdfdfd" stroke-width="1.25"/>
<line x1="302.20" y1="534.90" x2="481.60" y2="534.90" stroke="#fdfdfd" stroke-width="1.25"/>
<line x1="310.35" y1="486.00" x2="310.35" y2="665.30" stroke="#fdfdfd" stroke-width="1.25"/>
<line x1="302.20" y1="494.15" x2="481.60" y2="494.15" stroke="#fdfdfd" stroke-width="1.25"/>
<polyline points="309.65,657.15 315.04,657.15 315.04,591.95 327.76,591.95 327.76,559.35 350.43,559.35 350.43,494.15 472.75,494.15" fill="none" stroke="#88ceb2" stroke-width="2.7" stroke-linejoin="miter" stroke-linecap="butt"/>
<polyline points="309.65,657.15 309.65,624.55 315.04,624.55 315.04,591.95 327.76,591.95 327.76,526.75 345.86,526.75 345.86,494.15 472.75,494.15" fill="none" stroke="#35b3a6" stroke-width="2.9" stroke-linejoin="miter" stroke-linecap="butt"/>
<rect x="393.20" y="608.20" width="68.00" height="12.3" fill="#ebebeb"/>
<rect x="393.20" y="620.70" width="73.00" height="14" fill="#ebebeb"/>
<text x="395.68" y="617.40" font-size="10.2" stroke-width="0.22" fill="#303030" stroke="#303030" textLength="21.51" lengthAdjust="spacingAndGlyphs">AUC</text>
<text x="417.79" y="618.70" font-size="8.6" stroke-width="0.22" fill="#303030" stroke="#303030" textLength="9.22" lengthAdjust="spacingAndGlyphs">OI</text>
<text x="430.86" y="616.40" font-size="9.0" stroke-width="0.22" fill="#303030" stroke="#303030" textLength="6.49" lengthAdjust="spacingAndGlyphs">=</text>
<text x="441.07" y="617.40" font-size="10.3" stroke-width="0.22" fill="#303030" stroke="#303030" textLength="21.45" lengthAdjust="spacingAndGlyphs">0.86</text>
<text x="395.68" y="631.20" font-size="10.2" stroke-width="0.22" fill="#303030" stroke="#303030" textLength="21.51" lengthAdjust="spacingAndGlyphs">AUC</text>
<text x="417.82" y="632.50" font-size="8.6" stroke-width="0.22" fill="#303030" stroke="#303030" textLength="13.82" lengthAdjust="spacingAndGlyphs">OSI</text>
<text x="434.96" y="630.20" font-size="9.0" stroke-width="0.22" fill="#303030" stroke="#303030" textLength="6.49" lengthAdjust="spacingAndGlyphs">=</text>
<text x="445.67" y="631.20" font-size="10.3" stroke-width="0.22" fill="#303030" stroke="#303030" textLength="21.45" lengthAdjust="spacingAndGlyphs">0.91</text>
<line x1="302.20" y1="486.00" x2="302.20" y2="665.30" stroke="#8c8c8c" stroke-width="1.4"/>
<line x1="302.20" y1="665.30" x2="481.60" y2="665.30" stroke="#8c8c8c" stroke-width="1.4"/>
<line x1="296.60" y1="494.15" x2="302.20" y2="494.15" stroke="#555555" stroke-width="1.1"/>
<text x="272.08" y="497.90" font-size="10.6" stroke-width="0.22" fill="#303030" stroke="#303030" textLength="20.63" lengthAdjust="spacingAndGlyphs">1.00</text>
<line x1="310.35" y1="665.30" x2="310.35" y2="670.80" stroke="#555555" stroke-width="1.1"/>
<text x="300.24" y="683.60" font-size="10.6" stroke-width="0.22" fill="#303030" stroke="#303030" textLength="20.63" lengthAdjust="spacingAndGlyphs">1.00</text>
<line x1="296.60" y1="534.90" x2="302.20" y2="534.90" stroke="#555555" stroke-width="1.1"/>
<text x="272.11" y="538.65" font-size="10.6" stroke-width="0.22" fill="#303030" stroke="#303030" textLength="20.63" lengthAdjust="spacingAndGlyphs">0.75</text>
<line x1="351.13" y1="665.30" x2="351.13" y2="670.80" stroke="#555555" stroke-width="1.1"/>
<text x="341.23" y="683.60" font-size="10.6" stroke-width="0.22" fill="#303030" stroke="#303030" textLength="20.63" lengthAdjust="spacingAndGlyphs">0.75</text>
<line x1="296.60" y1="575.65" x2="302.20" y2="575.65" stroke="#555555" stroke-width="1.1"/>
<text x="272.08" y="579.40" font-size="10.6" stroke-width="0.22" fill="#303030" stroke="#303030" textLength="20.63" lengthAdjust="spacingAndGlyphs">0.50</text>
<line x1="391.90" y1="665.30" x2="391.90" y2="670.80" stroke="#555555" stroke-width="1.1"/>
<text x="381.98" y="683.60" font-size="10.6" stroke-width="0.22" fill="#303030" stroke="#303030" textLength="20.63" lengthAdjust="spacingAndGlyphs">0.50</text>
<line x1="296.60" y1="616.40" x2="302.20" y2="616.40" stroke="#555555" stroke-width="1.1"/>
<text x="272.11" y="620.15" font-size="10.6" stroke-width="0.22" fill="#303030" stroke="#303030" textLength="20.63" lengthAdjust="spacingAndGlyphs">0.25</text>
<line x1="432.67" y1="665.30" x2="432.67" y2="670.80" stroke="#555555" stroke-width="1.1"/>
<text x="422.77" y="683.60" font-size="10.6" stroke-width="0.22" fill="#303030" stroke="#303030" textLength="20.63" lengthAdjust="spacingAndGlyphs">0.25</text>
<line x1="296.60" y1="657.15" x2="302.20" y2="657.15" stroke="#555555" stroke-width="1.1"/>
<text x="286.82" y="660.90" font-size="10.6" stroke-width="0.22" fill="#303030" stroke="#303030" textLength="5.90" lengthAdjust="spacingAndGlyphs">0</text>
<line x1="473.45" y1="665.30" x2="473.45" y2="670.80" stroke="#555555" stroke-width="1.1"/>
<text x="470.90" y="683.60" font-size="10.6" stroke-width="0.22" fill="#303030" stroke="#303030" textLength="5.90" lengthAdjust="spacingAndGlyphs">0</text>
</g>
<rect x="72.6" y="44.2" width="51.0" height="27.6" fill="#ffffff"/>
<line x1="77" y1="51.9" x2="100.3" y2="51.9" stroke="#9cc2b3" stroke-width="1.1"/>
<line x1="77" y1="66.4" x2="100.3" y2="66.4" stroke="#47a9a4" stroke-width="1.1"/>
<text x="103.66" y="54.30" font-size="10" stroke-width="0.22" fill="#303030" stroke="#303030" textLength="11.99" lengthAdjust="spacingAndGlyphs">OI</text>
<text x="103.70" y="68.70" font-size="10" stroke-width="0.22" fill="#303030" stroke="#303030" textLength="18.06" lengthAdjust="spacingAndGlyphs">OSI</text>
<text x="121.59" y="28.80" font-size="12.4" font-weight="bold" stroke-width="0" fill="#1c1c1c" stroke="#1c1c1c" textLength="77.27" lengthAdjust="spacingAndGlyphs">At admission</text>
<text x="319.96" y="28.80" font-size="12.4" font-weight="bold" stroke-width="0" fill="#1c1c1c" stroke="#1c1c1c" textLength="143.15" lengthAdjust="spacingAndGlyphs">Highest in first 24 hours</text>
<text transform="translate(494.80,188.70) rotate(-90)" x="-0.95" y="0" font-size="11.3" fill="#1c1c1c" stroke="#1c1c1c" stroke-width="0.22" textLength="125.31" lengthAdjust="spacingAndGlyphs">Pulmonary hypertension</text>
<text transform="translate(494.80,366.90) rotate(-90)" x="-0.92" y="0" font-size="11.3" fill="#1c1c1c" stroke="#1c1c1c" stroke-width="0.22" textLength="33.76" lengthAdjust="spacingAndGlyphs">ECMO</text>
<text transform="translate(494.80,597.90) rotate(-90)" x="-1.02" y="0" font-size="11.3" fill="#1c1c1c" stroke="#1c1c1c" stroke-width="0.22" textLength="46.84" lengthAdjust="spacingAndGlyphs">Mortality</text>
<text transform="translate(31.50,376.00) rotate(-90)" x="-0.51" y="0" font-size="11.3" fill="#1c1c1c" stroke="#1c1c1c" stroke-width="0.22" textLength="50.94" lengthAdjust="spacingAndGlyphs">Sensitivity</text>
<text x="246.08" y="701.60" font-size="11.3" stroke-width="0.22" fill="#1c1c1c" stroke="#1c1c1c" textLength="51.74" lengthAdjust="spacingAndGlyphs">Specificity</text>
</svg>
</body></html>
